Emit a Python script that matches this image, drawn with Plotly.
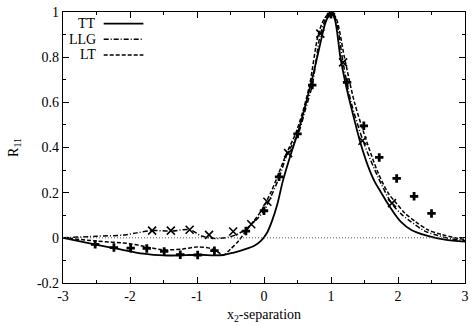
import plotly.graph_objects as go

# --- model curves (x2-separation, R11) ---
tt_x = [-3.0, -2.6, -2.2, -1.8, -1.5, -1.2, -0.95, -0.75, -0.6, -0.45, -0.3, -0.15, -0.05,
        0.05, 0.12, 0.2, 0.28, 0.4, 0.52, 0.63, 0.74, 0.84, 0.92, 1.0, 1.06, 1.14, 1.22,
        1.3, 1.44, 1.55, 1.65, 1.75, 1.84, 1.94, 2.04, 2.2, 2.43, 2.7, 3.0]
tt_y = [0.0, -0.025, -0.048, -0.07, -0.078, -0.077, -0.075, -0.078, -0.076, -0.065, -0.052,
        -0.036, -0.015, 0.025, 0.075, 0.15, 0.25, 0.37, 0.48, 0.6, 0.73, 0.86, 0.955, 1.0,
        0.965, 0.8, 0.68, 0.58, 0.42, 0.32, 0.25, 0.2, 0.155, 0.11, 0.072, 0.035, 0.01,
        -0.008, -0.017]

llg_x = [-3.0, -2.5, -2.1, -1.9, -1.67, -1.39, -1.11, -0.93, -0.73, -0.53, -0.39, -0.19,
         0.0, 0.1, 0.23, 0.35, 0.51, 0.62, 0.72, 0.84, 0.93, 1.0, 1.07, 1.18, 1.3, 1.49,
         1.7, 1.9, 2.05, 2.19, 2.4, 2.6, 2.8, 3.0]
llg_y = [0.0, 0.007, 0.012, 0.022, 0.032, 0.03, 0.036, 0.008, -0.003, 0.003, 0.017, 0.058,
         0.12, 0.18, 0.27, 0.374, 0.46, 0.57, 0.676, 0.9, 0.975, 1.0, 0.97, 0.777, 0.6,
         0.42, 0.27, 0.155, 0.105, 0.072, 0.03, 0.01, -0.005, -0.012]

lt_x = [-3.0, -2.5, -2.0, -1.76, -1.5, -1.22, -0.98, -0.8, -0.68, -0.6, -0.5, -0.38, -0.27,
        -0.15, -0.04, 0.1, 0.2, 0.33, 0.47, 0.58, 0.68, 0.81, 0.9, 1.0, 1.08, 1.2, 1.35,
        1.54, 1.7, 1.85, 1.97, 2.1, 2.26, 2.45, 2.65, 2.85, 3.0]
lt_y = [0.0, -0.014, -0.026, -0.04, -0.053, -0.05, -0.04, -0.047, -0.065, -0.075, -0.05,
        -0.014, 0.03, 0.075, 0.12, 0.2, 0.27, 0.37, 0.46, 0.56, 0.676, 0.9, 0.97, 1.0, 0.97,
        0.8, 0.6, 0.42, 0.29, 0.2, 0.155, 0.11, 0.072, 0.035, 0.015, 0.0, -0.007]

# --- measured points ---
plus_x = [-2.52, -2.24, -1.99, -1.75, -1.49, -1.25, -0.99, -0.74, -0.27, 0.0, 0.225,
          0.5, 0.72, 1.0, 1.24, 1.49, 1.72, 1.98, 2.24, 2.5]
plus_y = [-0.029, -0.043, -0.046, -0.047, -0.06, -0.075, -0.076, -0.057, 0.03, 0.12, 0.27,
          0.46, 0.676, 0.99, 0.688, 0.496, 0.356, 0.263, 0.184, 0.108]

cross_x = [-1.67, -1.39, -1.11, -0.82, -0.46, -0.19, 0.05, 0.36, 0.84, 1.01, 1.18, 1.47, 1.91]
cross_y = [0.032, 0.032, 0.036, 0.013, 0.028, 0.06, 0.16, 0.375, 0.904, 0.993, 0.777, 0.43, 0.154]

x_ticks = [-3, -2, -1, 0, 1, 2, 3]
x_ticktext = ["-3", "-2", "-1", "0", "1", "2", "3"]
y_ticks = [-0.2, 0, 0.2, 0.4, 0.6, 0.8, 1]
y_ticktext = ["-0.2", "0", "0.2", "0.4", "0.6", "0.8", "1"]

legend_names = ["TT", "LLG", "LT"]

FONT = "Liberation Serif, Times New Roman, serif"
SOLID = dict(color="black", width=1.8)
DASHDOT = dict(color="black", width=1.5, dash="5px,2px,1px,2px")
DASHED = dict(color="black", width=1.5, dash="4px,2px")
styles = [SOLID, DASHDOT, DASHED]

fig = go.Figure()

for xs, ys, st in [(tt_x, tt_y, SOLID), (llg_x, llg_y, DASHDOT), (lt_x, lt_y, DASHED)]:
    fig.add_trace(go.Scatter(x=xs, y=ys, mode="lines",
                             line=dict(**st, shape="spline", smoothing=0.8),
                             showlegend=False, hoverinfo="skip"))

fig.add_trace(go.Scatter(x=plus_x, y=plus_y, mode="markers",
                         marker=dict(symbol="cross", size=7, color="black"),
                         showlegend=False))
fig.add_trace(go.Scatter(x=cross_x, y=cross_y, mode="markers",
                         marker=dict(symbol="x-thin", size=8,
                                     line=dict(color="black", width=1.6)),
                         showlegend=False))

# dotted zero reference line
fig.add_shape(type="line", xref="x", yref="y", x0=-3, x1=3, y0=0, y1=0,
              line=dict(color="#555555", width=1, dash="1px,2px"))

# key in the upper-left corner: right-aligned labels followed by line samples
W, H = 474, 326
L, R, T, B = 63, 6, 5, 43
pw, ph = W - L - R, H - T - B
def px_x(p):
    return (p - L) / pw
def px_y(p):
    return 1 - (p - T) / ph

rows = [17, 33, 49]
for name, st, ry in zip(legend_names, styles, rows):
    fig.add_annotation(xref="paper", yref="paper", x=px_x(97), y=px_y(ry),
                       text=name, showarrow=False, xanchor="right", yanchor="middle",
                       borderpad=0,
                       font=dict(family=FONT, size=14, color="black"))
    fig.add_shape(type="line", xref="paper", yref="paper",
                  x0=px_x(104), x1=px_x(144), y0=px_y(ry), y1=px_y(ry), line=st)

axis_common = dict(
    showgrid=False, zeroline=False, showline=True, linecolor="black", linewidth=1.3,
    mirror="allticks", ticks="inside", ticklen=6, tickwidth=1, tickcolor="black",
    ticklabeloverflow="allow",
    tickfont=dict(family=FONT, size=14, color="black"),
)

fig.update_xaxes(range=[-3, 3], tickvals=x_ticks, ticktext=x_ticktext,
                 minor=dict(ticks="inside", dtick=0.5, ticklen=3, tickcolor="black"),
                 title=dict(text="x<sub>2</sub>-separation", standoff=6,
                            font=dict(family=FONT, size=14, color="black")),
                 **axis_common)
fig.update_yaxes(range=[-0.2, 1], tickvals=y_ticks, ticktext=y_ticktext,
                 minor=dict(ticks="inside", dtick=0.1, ticklen=3, tickcolor="black"),
                 title=dict(text="R<sub>11</sub>", standoff=14,
                            font=dict(family=FONT, size=14, color="black")),
                 **axis_common)

fig.update_layout(width=W, height=H, margin=dict(l=L, r=R, t=T, b=B),
                  paper_bgcolor="white", plot_bgcolor="white",
                  font=dict(family=FONT, size=14, color="black"))

fig.write_html("out.html")
